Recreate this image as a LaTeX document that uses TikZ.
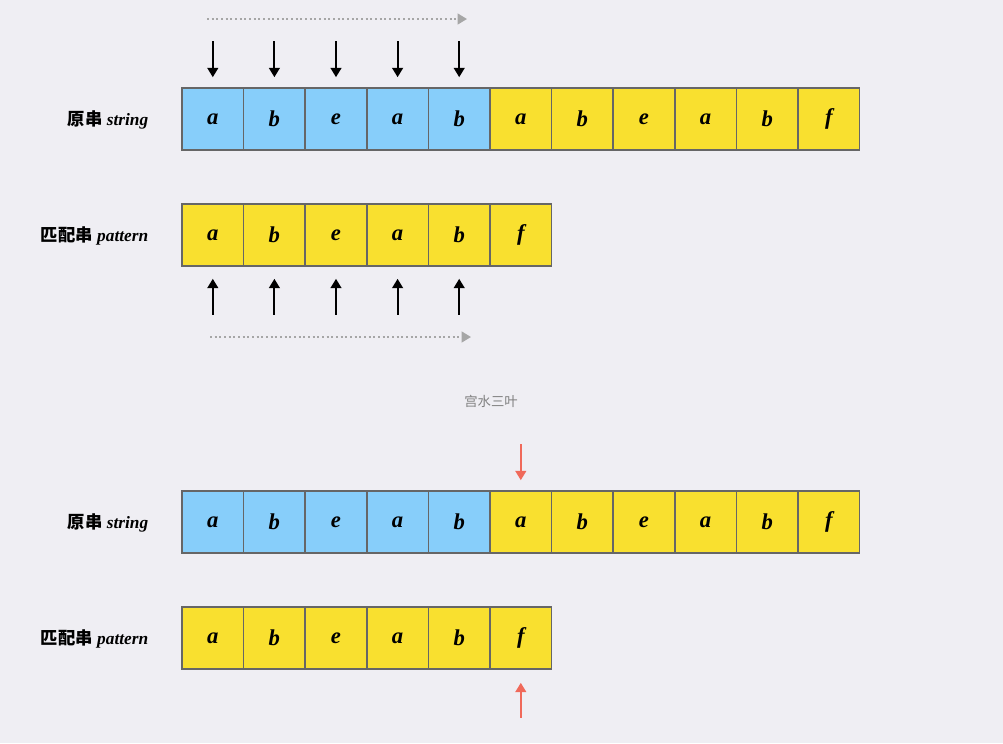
\documentclass[tikz,border=0pt]{standalone}
\usepackage{fontspec}
\setmainfont{Liberation Serif}
\newfontfamily\cjk{Noto Sans CJK SC}
\usetikzlibrary{arrows.meta}
\definecolor{bg}{HTML}{EFEEF3}
\definecolor{cblue}{HTML}{87CEFA}
\definecolor{cyel}{HTML}{F9E02F}
\definecolor{cred}{HTML}{F0695A}
\tikzset{cell/.style={draw=gray!80!black,line width=1.2pt,minimum width=61.6*0.75pt,minimum height=62*0.75pt,inner sep=0,font=\bfseries\itshape\fontsize{17}{17}\selectfont},
blue/.style={cell,fill=cblue},yel/.style={cell,fill=cyel},
lab/.style={anchor=east,font=\fontsize{13}{13}\selectfont},
blk/.style={-{Triangle[length=7pt,width=8pt]},line width=1.6pt},
red/.style={-{Triangle[length=7pt,width=8pt]},line width=1.6pt,draw=cred},
dot/.style={-{Triangle[length=7pt,width=8pt]},line width=1.5pt,draw=gray!70,dotted}}
\begin{document}
\begin{tikzpicture}[x=0.75pt,y=-0.75pt]
\fill[bg] (0,0) rectangle (1003,743);
\foreach \r/\y in {1/119,3/522}{
 \foreach \c [count=\i from 0] in {a,b,e,a,b,a,b,e,a,b,f}{
  \pgfmathsetmacro\xx{212.8+61.6*\i}
  \ifnum\i<5 \node[blue] (s\r\i) at (\xx,\y) {\c};\else \node[yel] (s\r\i) at (\xx,\y) {\c};\fi
 }}
\foreach \r/\y in {2/235,4/638}{
 \foreach \c [count=\i from 0] in {a,b,e,a,b,f}{
  \pgfmathsetmacro\xx{212.8+61.6*\i}
  \node[yel] (p\r\i) at (\xx,\y) {\c};
 }}
\node[lab] (l1) at (153,120) {{\cjk\bfseries 原串} \textbf{\textit{string}}};
\node[lab] (l2) at (153,236) {{\cjk\bfseries 匹配串} \textbf{\textit{pattern}}};
\node[lab] (l3) at (153,523) {{\cjk\bfseries 原串} \textbf{\textit{string}}};
\node[lab] (l4) at (153,639) {{\cjk\bfseries 匹配串} \textbf{\textit{pattern}}};
\node[font=\cjk\fontsize{10}{10}\selectfont,text=gray] (wm) at (491,401) {宫水三叶};
\foreach \i in {0,...,4}{
 \draw[blk] ([yshift=46*0.75pt]s1\i.north) -- ([yshift=10*0.75pt]s1\i.north);
 \draw[blk] ([yshift=-48*0.75pt]p2\i.south) -- ([yshift=-12*0.75pt]p2\i.south);
}
\coordinate (d1a) at (207,19); \coordinate (d1b) at (467,19);
\coordinate (d2a) at (210,337); \coordinate (d2b) at (471,337);
\draw[dot] (d1a) -- (d1b);
\draw[dot] (d2a) -- (d2b);
\draw[red] ([yshift=46*0.75pt]s35.north) -- ([yshift=10*0.75pt]s35.north);
\draw[red] ([yshift=-48*0.75pt]p45.south) -- ([yshift=-13*0.75pt]p45.south);
\end{tikzpicture}
\end{document}
